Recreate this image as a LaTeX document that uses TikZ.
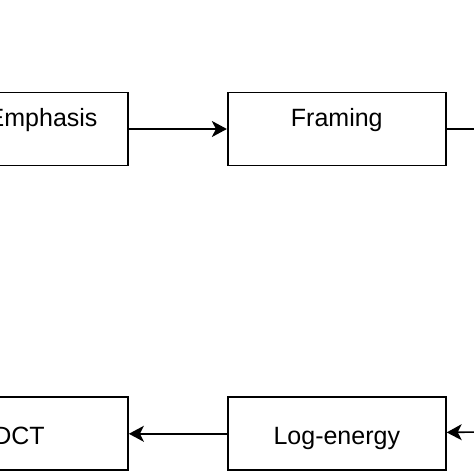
\documentclass[tikz,border=0pt]{standalone}
\usepackage{fontspec}
\setmainfont{Liberation Sans}
\usetikzlibrary{positioning,arrows.meta}

\begin{document}
\begin{tikzpicture}[x=1pt,y=-1pt,
    stage/.style={draw, line width=1.8pt, minimum width=218pt, minimum height=73pt,
        inner sep=0pt, font=\fontsize{25}{30}\selectfont},
    toprow/.style={text height=0pt, text depth=5pt},
    lowrow/.style={text height=21pt, text depth=0pt},
    flow/.style={line width=1.6pt, -{Stealth[length=15pt,width=16pt,inset=4pt]}}]
        \useasboundingbox (0,0) rectangle (474,474);
        \clip (0,0) rectangle (474,474);

        % upper row
        \node[stage, toprow] (preemph) at (19,129) {Pre-Emphasis};
        \node[stage, toprow, right=98pt of preemph] (framing) {Framing};

        % lower row
        \node[stage, lowrow, below=230pt of framing] (logen) {Log-energy};
        \node[stage, lowrow, left=98pt of logen] (dct) {DCT};

        \coordinate (outA) at (480,129);
        \coordinate (inB) at (480,432);

        \draw[flow] (preemph) -- (framing);
        \draw[line width=1.6pt] (framing) -- (outA);
        \draw[flow] (inB) -- (logen);
        \draw[flow] (logen) -- (dct);
    \end{tikzpicture}
\end{document}
